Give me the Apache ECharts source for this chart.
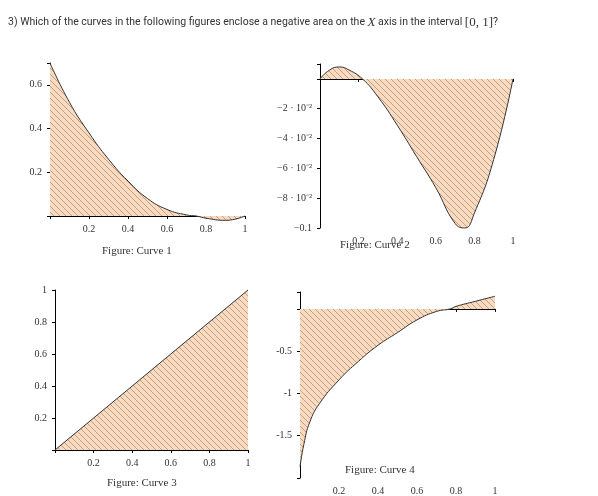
<!DOCTYPE html>
<html><head><meta charset="utf-8">
<script src="https://cdn.jsdelivr.net/npm/echarts@6/dist/echarts.min.js"></script>
<style>html,body{margin:0;padding:0;background:#fff}#c{width:598px;height:496px}</style>
</head><body><div id="c"></div>
<script>
// ---- data ----
const curve1X = [0, 0.1, 0.2, 0.3, 0.4, 0.5, 0.6, 0.7, 0.75, 0.8, 0.9, 1];
const curve1Y = [0.70, 0.52, 0.38, 0.26, 0.16, 0.08, 0.03, 0.005, 0, -0.01, -0.02, 0];
const curve2X = [0, 0.05, 0.1, 0.15, 0.22, 0.3, 0.4, 0.5, 0.6, 0.7, 0.75, 0.8, 0.9, 1];
const curve2Y = [0, 0.006, 0.008, 0.006, 0, -0.012, -0.031, -0.052, -0.073, -0.097, -0.1, -0.09, -0.054, 0];
const curve3X = [0, 1];
const curve3Y = [0, 1];
const curve4X = [0, 0.02, 0.05, 0.1, 0.2, 0.3, 0.4, 0.5, 0.6, 0.7, 0.77, 0.8, 0.9, 1];
const curve4Y = [-1.87, -1.6, -1.34, -1.12, -0.84, -0.62, -0.43, -0.28, -0.13, -0.03, 0, 0.03, 0.09, 0.15];
const curve2TickLabels = {'-0.02':'−2 · 10⁻²','-0.04':'−4 · 10⁻²','-0.06':'−6 · 10⁻²','-0.08':'−8 · 10⁻²','-0.1':'−0.1'};
const captions = ['Figure: Curve 1','Figure: Curve 2','Figure: Curve 3','Figure: Curve 4'];

const cv = document.createElement('canvas'); cv.width = 6; cv.height = 6;
const g = cv.getContext('2d');
g.fillStyle = '#f6dcc4'; g.fillRect(0,0,6,6);
g.strokeStyle = '#d49a6e'; g.lineWidth = 1;
g.beginPath(); g.moveTo(-1,-1); g.lineTo(7,7); g.moveTo(-7,-1); g.lineTo(1,7); g.moveTo(5,-1); g.lineTo(13,7); g.stroke();
const hatch = {image: cv, repeat: 'repeat'};

const serif = 'Liberation Serif';
const fmtNum = v => { if (Math.abs(v) < 1e-9) return ''; return String(+v.toFixed(2)); };
function xAx(idx, labels) {
  return {type:'value', gridIndex: idx, min:0, max:1, interval:0.2,
    axisLine:{show:true, onZero:true, lineStyle:{color:'#000', width:1}},
    axisTick:{show:true, length:3, lineStyle:{color:'#000'}},
    splitLine:{show:false},
    axisLabel:{fontFamily:serif, fontSize:10, color:'#333', formatter: v => labels(v)}};
}
function yAx(idx, min, max, interval, fmt) {
  return {type:'value', gridIndex: idx, min, max, interval,
    axisLine:{show:true, onZero:false, lineStyle:{color:'#000', width:1}},
    axisTick:{show:true, length:3, lineStyle:{color:'#000'}},
    splitLine:{show:false},
    axisLabel:{fontFamily:serif, fontSize:10, color:'#333', formatter: fmt}};
}
const zip = (a,b) => a.map((x,i)=>[x,b[i]]);
function ser(i, xs, ys, smooth) {
  return {type:'line', xAxisIndex:i, yAxisIndex:i, data: zip(xs,ys), smooth, showSymbol:false, clip:false,
    lineStyle:{color:'#333', width:1}, areaStyle:{color: hatch, opacity:1, origin:0}};
}
const chart = echarts.init(document.getElementById('c'));
chart.setOption({
  animation:false,
  grid:[
    {left:50, top:63, width:195, height:153},
    {left:320, top:64, width:193, height:164},
    {left:55, top:290, width:193, height:160},
    {left:300, top:292, width:195, height:197}
  ],
  xAxis:[
    xAx(0, fmtNum), xAx(1, fmtNum), xAx(2, fmtNum), xAx(3, fmtNum)
  ],
  yAxis:[
    yAx(0, 0, 0.7, 0.2, v => (v>0.01 && v<0.65) ? fmtNum(v) : ''),
    yAx(1, -0.1, 0.01, 0.02, v => curve2TickLabels[String(+v.toFixed(2))] || ''),
    yAx(2, 0, 1, 0.2, fmtNum),
    yAx(3, -2, 0.2, 0.5, v => (v<-0.1 && v>-1.9) ? fmtNum(v) : '')
  ],
  series:[
    ser(0, curve1X, curve1Y, true),
    ser(1, curve2X, curve2Y, true),
    ser(2, curve3X, curve3Y, false),
    ser(3, curve4X, curve4Y, true)
  ],
  graphic:[
    {type:'text', left:8, top:16, style:{
      text:'{a|3) Which of the curves in the following figures enclose a negative area on the }{m|X}{a| axis in the interval }{n|[0, 1]}{a|?}',
      rich:{a:{fontFamily:'Roboto', fontSize:10.5, fill:'#333'}, m:{fontFamily:serif, fontStyle:'italic', fontSize:13, fill:'#333'}, n:{fontFamily:serif, fontSize:13, fill:'#333'}}}},
    {type:'text', left:102, top:246, style:{text:captions[0], font:'11px "Liberation Serif"', fill:'#333'}},
    {type:'text', left:340, top:240, style:{text:captions[1], font:'11px "Liberation Serif"', fill:'#333'}},
    {type:'text', left:107, top:478, style:{text:captions[2], font:'11px "Liberation Serif"', fill:'#333'}},
    {type:'text', left:345, top:465, style:{text:captions[3], font:'11px "Liberation Serif"', fill:'#333'}}
  ]
});
</script></body></html>
